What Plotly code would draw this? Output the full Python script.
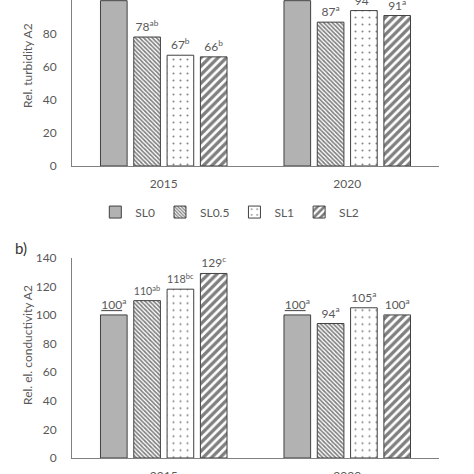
import plotly.graph_objects as go

# data
years = ["2015", "2020"]
series = ["SL0", "SL0.5", "SL1", "SL2"]

turbidity = {
    "SL0": [100, 100],
    "SL0.5": [78, 87],
    "SL1": [67, 94],
    "SL2": [66, 91],
}
turb_labels = {
    "SL0": ["100", "100"],
    "SL0.5": ["78<sup>ab</sup>", "87<sup>a</sup>"],
    "SL1": ["67<sup>b</sup>", "94<sup>a</sup>"],
    "SL2": ["66<sup>b</sup>", "91<sup>a</sup>"],
}

conductivity = {
    "SL0": [100, 100],
    "SL0.5": [110, 94],
    "SL1": [118, 105],
    "SL2": [129, 100],
}
cond_labels = {
    "SL0": ['<span style="text-decoration:underline">100</span><sup>a</sup>',
            '<span style="text-decoration:underline">100</span><sup>a</sup>'],
    "SL0.5": ["110<sup>ab</sup>", "94<sup>a</sup>"],
    "SL1": ["118<sup>bc</sup>", "105<sup>a</sup>"],
    "SL2": ["129<sup>c</sup>", "100<sup>a</sup>"],
}

# bar look per series
styles = {
    "SL0": dict(color="#b2b2b2", pattern=dict(shape="")),
    "SL0.5": dict(color="white", pattern=dict(shape="\\", size=3, solidity=0.55,
                                               fgcolor="black", bgcolor="white")),
    "SL1": dict(color="white", pattern=dict(shape=".", size=7, solidity=0.07,
                                             fgcolor="#111111", bgcolor="white")),
    "SL2": dict(color="white", pattern=dict(shape="/", size=6, solidity=0.55,
                                             fgcolor="black", bgcolor="white")),
}

GREY = "#595959"
FONT = "Lato"

fig = go.Figure()

for s in series:
    st = styles[s]
    marker = dict(color=st["color"], pattern=st["pattern"],
                  line=dict(color="#404040", width=1))
    fig.add_trace(go.Bar(
        x=years, y=turbidity[s], name=s, marker=marker,
        text=turb_labels[s], textposition="outside", cliponaxis=False,
        textfont=dict(size=12, color=GREY, family=FONT),
        xaxis="x", yaxis="y", legendgroup=s,
    ))
    fig.add_trace(go.Bar(
        x=years, y=conductivity[s], name=s, marker=marker,
        text=cond_labels[s], textposition="outside", cliponaxis=False,
        textfont=dict(size=12, color=GREY, family=FONT),
        xaxis="x2", yaxis="y2", legendgroup=s, showlegend=False,
    ))

axis_common = dict(showgrid=False, zeroline=False, showline=True,
                   linecolor="#808080", linewidth=1, ticks="",
                   tickfont=dict(size=12, color=GREY, family=FONT))

fig.update_layout(
    width=474, height=474,
    margin=dict(l=72, r=35, t=0, b=16, autoexpand=False),
    paper_bgcolor="white", plot_bgcolor="white",
    barmode="group", bargap=0.274, bargroupgap=0.2,
    font=dict(family=FONT, color=GREY, size=12),
    xaxis=dict(axis_common, domain=[0, 1], anchor="y", ticklabelstandoff=7),
    yaxis=dict(axis_common, domain=[0.6376, 1], range=[0, 100.4],
               tickvals=[0, 20, 40, 60, 80, 100], anchor="x",
               ticklabelstandoff=12),
    xaxis2=dict(axis_common, domain=[0, 1], anchor="y2", ticklabelstandoff=7),
    yaxis2=dict(axis_common, domain=[0, 0.4373], range=[0, 140],
                tickvals=[0, 20, 40, 60, 80, 100, 120, 140], anchor="x2",
                ticklabelstandoff=12),
    legend=dict(orientation="h", x=0.43, xanchor="center", y=0.537,
                yanchor="middle", font=dict(size=12, color=GREY, family=FONT),
                itemwidth=30, tracegroupgap=0),
    showlegend=True,
    annotations=[
        dict(text="Rel. turbidity A2", textangle=-90, x=27, y=66,
             showarrow=False, font=dict(size=12, color=GREY, family=FONT)),
        dict(text="Rel. el. conductivity A2", textangle=-90, x=27, y=345,
             showarrow=False, font=dict(size=12, color=GREY, family=FONT)),
        dict(text="b)", x=21, y=248, showarrow=False,
             font=dict(size=15, color="#333333", family=FONT)),
    ],
)

# annotation positions given in pixels -> convert to paper fractions
plot_w = 474 - 72 - 35
plot_h = 474 - 0 - 16
for ann in fig.layout.annotations:
    px_x, px_y = ann.x, ann.y
    ann.update(xref="paper", yref="paper",
               x=(px_x - 72) / plot_w, y=(plot_h - px_y) / plot_h,
               xanchor="center", yanchor="middle")

# page has a default 8px body margin; drop it so the figure sits at the corner
fig.write_html("out.html", config={"displayModeBar": False},
               post_script="document.body.style.margin='0px';")
